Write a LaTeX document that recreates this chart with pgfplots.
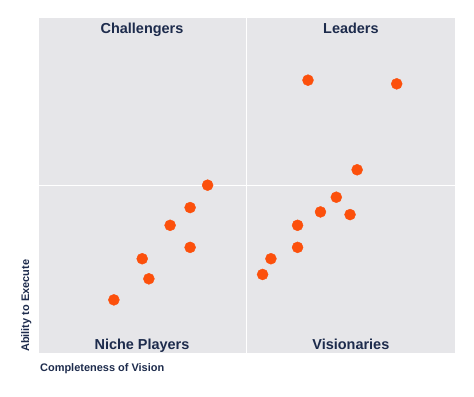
\documentclass[border=0pt]{standalone}
\usepackage{fontspec}
\setmainfont{Liberation Sans}
\usepackage{pgfplots}
\pgfplotsset{compat=1.18}
\definecolor{bgcol}{RGB}{230,230,233}
\definecolor{dotcol}{RGB}{252,80,12}
\definecolor{navy}{RGB}{29,43,76}
\begin{document}
\begin{tikzpicture}[x=1bp,y=1bp]
\useasboundingbox (0,0) rectangle (474,396);
\begin{axis}[
  at={(38.5bp,43.3bp)}, anchor=south west,
  scale only axis, width=416.5bp, height=334.4bp,
  xmin=0, xmax=10, ymin=0, ymax=10,
  ticks=none, axis line style={draw=none},
  axis background/.style={fill=bgcol},
  clip=false,
]
\draw[white, line width=1pt] (axis cs:5,0) -- (axis cs:5,10);
\draw[white, line width=1pt] (axis cs:0,5) -- (axis cs:10,5);
\addplot[only marks, mark=*, color=dotcol, fill=dotcol, mark size=5.5bp] coordinates {
(6.47,8.15) (8.60,8.04) (7.65,5.47) (4.06,5.01)
(3.64,4.34) (3.16,3.81) (3.64,3.15) (2.49,2.81) (2.65,2.21) (1.81,1.58)
(7.15,4.65) (6.77,4.21) (7.48,4.13) (6.22,3.81) (6.22,3.15) (5.58,2.81) (5.38,2.34)
};
\node[anchor=base, font=\bfseries\fontsize{14.5}{16}\selectfont, text=navy] at (axis cs:2.485,9.55) {Challengers};
\node[anchor=base, font=\bfseries\fontsize{14.5}{16}\selectfont, text=navy] at (axis cs:7.50,9.55) {Leaders};
\node[anchor=base, font=\bfseries\fontsize{14.5}{16}\selectfont, text=navy] at (axis cs:2.485,0.11) {Niche Players};
\node[anchor=base, font=\bfseries\fontsize{14.5}{16}\selectfont, text=navy] at (axis cs:7.50,0.11) {Visionaries};
\end{axis}
\node[anchor=base west, inner sep=0pt, font=\bfseries\fontsize{11}{13}\selectfont, text=navy] at (40,25) {Completeness of Vision};
\node[anchor=base west, rotate=90, inner sep=0pt, font=\bfseries\fontsize{11}{13}\selectfont, text=navy] at (29,44) {Ability to Execute};
\end{tikzpicture}
\end{document}
